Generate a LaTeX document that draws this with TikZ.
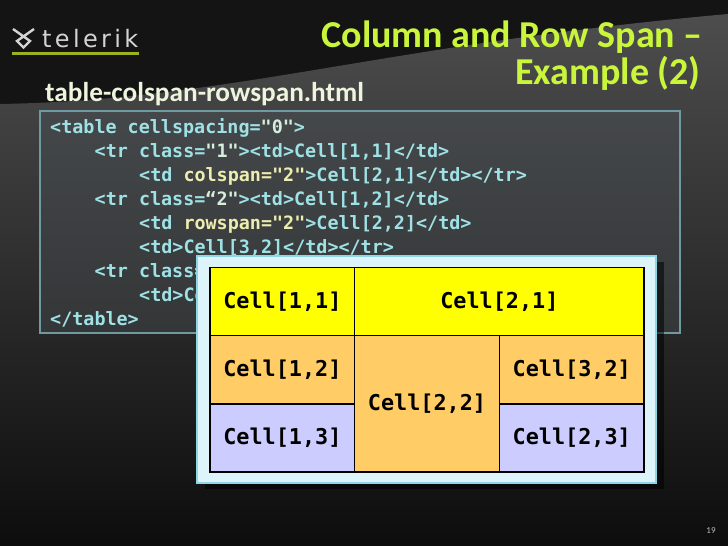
\documentclass[tikz,border=0pt]{standalone}
\usepackage{fontspec}
\setmainfont{Carlito}
\setmonofont{DejaVu Sans Mono}
\newfontfamily\logofont[LetterSpace=14]{DejaVu Sans}
\usepackage{xcolor}
\usepackage{tikz}
\usetikzlibrary{shapes.geometric,calc}
\usetikzlibrary{shapes.geometric,positioning}

\definecolor{slidebg}{HTML}{141414}
\definecolor{wavegray}{HTML}{4D4D4D}
\definecolor{titlegreen}{HTML}{C9F53A}
\definecolor{filename}{HTML}{EEF5DF}
\definecolor{codetag}{HTML}{9FE2E6}
\definecolor{codeattr}{HTML}{EDEDB0}
\definecolor{codeval}{HTML}{D6EEDC}
\definecolor{codefill}{HTML}{45484A}
\definecolor{codeedge}{HTML}{6F9AA2}
\definecolor{framefill}{HTML}{DDF4FB}
\definecolor{frameedge}{HTML}{8ED6E6}
\definecolor{rowyellow}{HTML}{FFFF00}
\definecolor{roworange}{HTML}{FFCC66}
\definecolor{rowlilac}{HTML}{CCCCFF}
\definecolor{logogray}{HTML}{D4D4D4}
\definecolor{logoolive}{HTML}{9DB01E}

\newcommand{\attr}[1]{\textcolor{codeattr}{#1}}
\newcommand{\val}[1]{\textcolor{codeval}{#1}}

\tikzset{
  codeline/.style={anchor=base west, inner sep=0pt, text=codetag,
    font=\ttfamily\bfseries\fontsize{18.4}{22}\selectfont},
  cellbox/.style={draw, line width=1.5pt, outer sep=0pt, inner sep=0pt,
    minimum width=144.7pt, minimum height=68.2pt,
    font=\ttfamily\bfseries\fontsize{21.8}{26}\selectfont},
  titletext/.style={anchor=base east, inner sep=0pt, text=titlegreen,
    font=\bfseries\fontsize{38}{40}\selectfont},
}

\begin{document}
\begin{tikzpicture}[x=1pt,y=-1pt]
\useasboundingbox (0,0) rectangle (728,546);
% slide background
\fill[slidebg] (0,0) rectangle (728,546);
\shade[top color=wavegray, middle color=black!85, bottom color=black!95]
    (0,104) .. controls (230,100) and (380,45) .. (728,14)
    -- (728,546) -- (0,546) -- cycle;

% logo
\draw[logogray, line width=2.4pt] (13,29) -- (30,41) -- (23.5,47.5) -- (17,41) -- (34,29);
\node (logo) [anchor=base west, inner sep=0pt, text=logogray,
    font=\logofont\fontsize{24}{24}\selectfont] at (42,47) {telerik};
\fill[logoolive] (12,51.5) rectangle (139,55);

% title
\node (title-top) [titletext] at (703,47) {Column and Row Span –};
\node (title-bottom) [titletext] at (701,84) {Example (2)};
\node (file-name) [anchor=base west, inner sep=0pt, text=filename,
    font=\bfseries\fontsize{27.3}{30}\selectfont] at (45,101) {table-colspan-rowspan.html};

% code listing
\node (code-box) [draw=codeedge, line width=1.2pt, top color=codefill,
    bottom color=codefill!75!black, minimum width=640pt, minimum height=222pt] at (360,222) {};
\node (code-l1) [codeline] at (50,133) {<table cellspacing=\val{"0"}>};
\node (code-l2) [codeline] at (94.5,157.1) {<tr class=\val{"1"}><td>Cell[1,1]</td>};
\node (code-l3) [codeline] at (139,181.2) {<td \attr{colspan="2"}>Cell[2,1]</td></tr>};
\node (code-l4) [codeline] at (94.5,205.3) {<tr class=\val{“2"}><td>Cell[1,2]</td>};
\node (code-l5) [codeline] at (139,229.4) {<td \attr{rowspan="2"}>Cell[2,2]</td>};
\node (code-l6) [codeline] at (139,253.5) {<td>Cell[3,2]</td></tr>};
\node (code-l7) [codeline] at (94.5,277.6) {<tr class=};
\node (code-l8) [codeline] at (139,301.7) {<td>Ce};
\node (code-l9) [codeline] at (50,325.8) {</table>};

% rendered table
\fill[black, opacity=.55] (205,262) rectangle (664,489);
\node (table-frame) [draw=frameedge, line width=1.5pt, fill=framefill, outer sep=0pt,
    minimum width=459pt, minimum height=227pt] at (426.5,369.5) {};
\node (cell-11) [cellbox, fill=rowyellow, anchor=north west]
    at ($(table-frame.north west)+(13,11.5)$) {Cell[1,1]};
\node (cell-21) [cellbox, fill=rowyellow, minimum width=289.4pt,
    right=0pt of cell-11] {Cell[2,1]};
\node (cell-12) [cellbox, fill=roworange, below=0pt of cell-11] {Cell[1,2]};
\node (cell-22) [cellbox, fill=roworange, minimum height=136.4pt,
    right=0pt of cell-12.north east, anchor=north west] {Cell[2,2]};
\node (cell-32) [cellbox, fill=roworange,
    right=0pt of cell-22.north east, anchor=north west] {Cell[3,2]};
\node (cell-13) [cellbox, fill=rowlilac, below=0pt of cell-12] {Cell[1,3]};
\node (cell-23) [cellbox, fill=rowlilac, below=0pt of cell-32] {Cell[2,3]};

\node (slide-no) [text=black!25, font=\fontsize{9}{9}\selectfont] at (711,531) {19};
\end{tikzpicture}
\end{document}
